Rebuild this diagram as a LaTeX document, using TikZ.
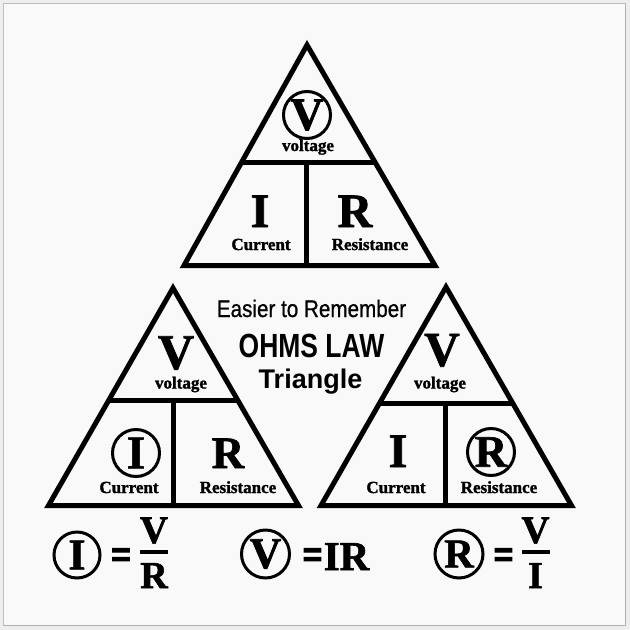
\documentclass[tikz,border=0pt]{standalone}
\usepackage{fontspec}
\setmainfont{Liberation Serif}[BoldFeatures={FakeBold=1.5}]
\newfontfamily\sansf{Liberation Sans}
\newfontfamily\sansm{Liberation Sans}[FakeBold=0.8]
\newfontface\eqfont{Liberation Sans Bold}[FakeBold=3.5]
\usetikzlibrary{calc}
\newcommand\fsz[1]{\fontsize{#1}{#1}\selectfont}
\definecolor{bgout}{HTML}{EDEDED}
\definecolor{poster}{HTML}{F9F9F9}
\definecolor{edgegray}{HTML}{B0B0B0}
\tikzset{
  tri/.style={line width=5pt, line join=miter, draw=black},
  bigl/.style={font=\bfseries\fsz{#1}, inner sep=0pt, anchor=base},
  lbl/.style={font=\bfseries\fsz{17}, inner sep=0pt, anchor=base},
  circ/.style={draw, circle, line width=3pt, minimum size=47pt, inner sep=0pt, font=\bfseries\fsz{#1}},
  fcirc/.style={draw, circle, line width=3pt, minimum size=46pt, inner sep=0pt, font=\bfseries\fsz{#1}},
  eqs/.style={font=\eqfont\fsz{33}, inner sep=0pt},
  fracl/.style={line width=3.5pt},
}
\begin{document}
\begin{tikzpicture}[x=1pt,y=-1pt]
\useasboundingbox (0,0) rectangle (630,630);
\fill[bgout] (0,0) rectangle (630,630);
\fill[poster] (3,3) rectangle (625,625);
\draw[edgegray, line width=1pt] (625,3) -- (625,625) -- (3,625);
\draw[bgout!80!black, line width=0.5pt] (3,625) -- (3,3) -- (625,3);

% ---------- top triangle ----------
\coordinate (Ta) at (307,45);
\coordinate (Tl) at (184,265.5);
\coordinate (Tr) at (435,265.5);
\coordinate (Tm) at (306,162);
\coordinate (Tb) at (306,265.5);
\draw[tri] (Ta) -- (Tl) -- (Tr) -- cycle;
\draw[tri] ($(Ta)!0.531!(Tl)$) -- ($(Ta)!0.531!(Tr)$);
\draw[tri] (Tm) -- (Tb);
\node[circ=46] (tV) at (307,115) {V};
\node[lbl] (tvolt) at (308,151) {voltage};
\node[bigl=48] (tI) at (260,227) {I};
\node[lbl] (tcur) at (261,250) {Current};
\node[bigl=48] (tR) at (355,227) {R};
\node[lbl] (tres) at (370,250) {Resistance};

% ---------- bottom-left triangle ----------
\coordinate (La) at (173,288);
\coordinate (Ll) at (48.5,505.5);
\coordinate (Lr) at (298.5,505.5);
\coordinate (Lm) at (173,400);
\coordinate (Lb) at (173,505.5);
\draw[tri] (La) -- (Ll) -- (Lr) -- cycle;
\draw[tri] ($(La)!0.515!(Ll)$) -- ($(La)!0.515!(Lr)$);
\draw[tri] (Lm) -- (Lb);
\node[bigl=50] (lV) at (176,369) {V};
\node[lbl] (lvolt) at (181,388.5) {voltage};
\node[circ=47] (lI) at (136,453) {I};
\node[lbl] (lcur) at (129,493) {Current};
\node[bigl=45] (lR) at (228,468) {R};
\node[lbl] (lres) at (238,493) {Resistance};

% ---------- bottom-right triangle ----------
\coordinate (Ra) at (446,287);
\coordinate (Rl) at (321,505.5);
\coordinate (Rr) at (571.5,505.5);
\coordinate (Rm) at (445,403);
\coordinate (Rb) at (445,505.5);
\draw[tri] (Ra) -- (Rl) -- (Rr) -- cycle;
\draw[tri] ($(Ra)!0.531!(Rl)$) -- ($(Ra)!0.531!(Rr)$);
\draw[tri] (Rm) -- (Rb);
\node[bigl=49] (rV) at (442,366) {V};
\node[lbl] (rvolt) at (440,388.5) {voltage};
\node[bigl=48] (rI) at (398,467) {I};
\node[lbl] (rcur) at (396,493) {Current};
\node[circ=45] (rR) at (491,452) {R};
\node[lbl] (rres) at (499,493) {Resistance};

% ---------- title ----------
\node[font=\sansm\fsz{24}, inner sep=0pt, anchor=base, xscale=0.86] (t1) at (311.5,317) {Easier to Remember};
\node[font=\sansf\bfseries\fsz{33.5}, inner sep=0pt, anchor=base, xscale=0.79] (t2) at (311.5,357) {OHMS LAW};
\node[font=\sansf\bfseries\fsz{27}, inner sep=0pt, anchor=base] (t3) at (310.5,388) {Triangle};

% ---------- formulas ----------
\node[fcirc=44] (fI) at (77,555) {I};
\node[eqs] (eq1) at (121,557) {=};
\node[bigl=39] (fV1) at (154,543) {V};
\node[bigl=38] (fR1) at (154,588) {R};
\draw[fracl] (140,552) -- (168,552);

\node[fcirc=44, minimum size=48pt] (fV) at (265.5,554) {V};
\node[eqs] (eq2) at (312.5,557) {=};
\node[font=\bfseries\fsz{41}, inner sep=0pt, anchor=base west] (fIR) at (323.5,570) {IR};

\node[fcirc=41, minimum size=48pt] (fR) at (459,554) {R};
\node[eqs] (eq3) at (503.5,557) {=};
\node[bigl=39] (fV2) at (535.5,543) {V};
\node[bigl=38] (fI2) at (535.5,588) {I};
\draw[fracl] (521.5,552) -- (549.5,552);
\end{tikzpicture}
\end{document}
